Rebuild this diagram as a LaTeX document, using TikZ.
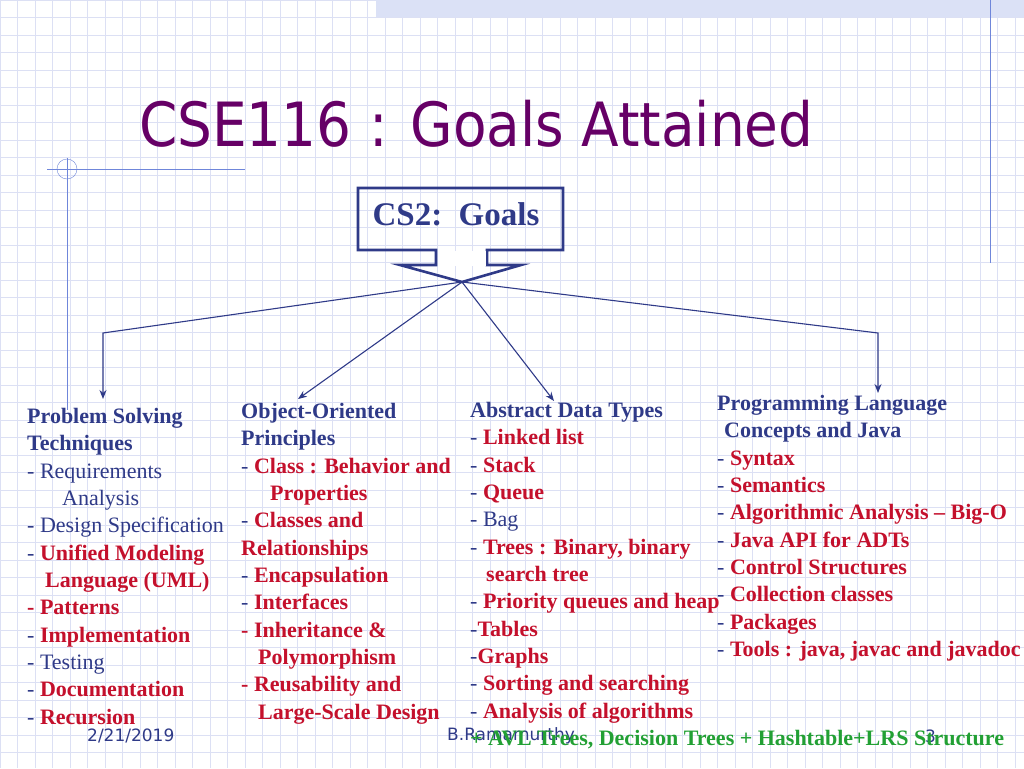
\documentclass[tikz,border=0pt]{standalone}
\usepackage{fontspec}
\setmainfont{Liberation Serif}
\newfontfamily\titlefont{DejaVu Sans Condensed}
\newfontfamily\footfont{DejaVu Sans}
\usetikzlibrary{arrows.meta}
\definecolor{navy}{HTML}{2F3A88}
\definecolor{rd}{HTML}{C4102C}
\definecolor{gr}{HTML}{22A034}
\definecolor{ttl}{HTML}{660066}
\definecolor{gridc}{HTML}{DCE0F4}
\definecolor{deco}{HTML}{6F86DA}
\newcommand{\B}[1]{\textcolor{navy}{#1}}
\newcommand{\R}[1]{\textcolor{rd}{\bfseries #1}}
\newcommand{\N}[1]{\textcolor{navy}{\mdseries #1}}
\tikzset{
 col/.style={anchor=north west,inner sep=0pt,align=left,font=\fontsize{22}{27.35}\selectfont\bfseries,text=navy},
 conn/.style={navy,line width=1.1pt},
 arr/.style={conn,-{Stealth[length=9pt,width=7pt]}},
}
\begin{document}
\begin{tikzpicture}[x=1pt,y=-1pt]
\clip (0,0) rectangle (1024,768);
\fill[white] (0,0) rectangle (1024,768);
\foreach \i in {0,...,59} {\draw[gridc,line width=0.6pt] (17.5*\i,0) -- (17.5*\i,768);}
\foreach \i in {0,...,44} {\draw[gridc,line width=0.6pt] (0,17.5*\i) -- (1024,17.5*\i);}
\fill[deco!25] (376,0) rectangle (1024,17);
\draw[deco] (990,0) -- (990,263);
\draw[deco] (47,169) -- (245,169);
\draw[deco] (67,158) -- (67,410);
\draw[deco] (67,169) circle[radius=10];
\node[anchor=west,inner sep=0pt,text=ttl,font=\titlefont\fontsize{61}{61}\selectfont] (title) at (139,124) {CSE116 : Goals Attained};
% CS2 box
\node[inner sep=0pt,text=navy,font=\fontsize{33}{33}\selectfont\bfseries] (cs2) at (456,214) {CS2:\ \ Goals};
\coordinate (apex) at (462,282);
\draw[navy,line width=2.6pt,line join=miter] (436,250) -- (358,250) -- (358,188) -- (563,188) -- (563,250) -- (487,250) -- (487,265) -- (521,265) -- (apex) -- (400,265) -- (436,265) -- cycle;
\fill[white] (437.5,251) rectangle (485.5,266);
\draw[navy,line width=2.6pt] (436,250) -- (436,265) (487,250) -- (487,265);
\coordinate (c1) at (103,333);
\coordinate (c4) at (878,333);
\coordinate (e1) at (103,399);
\coordinate (e2) at (298,399);
\coordinate (e3) at (554,401);
\coordinate (e4) at (878,393);
\draw[arr] (apex) -- (c1) -- (e1);
\draw[arr] (apex) -- (e2);
\draw[arr] (apex) -- (e3);
\draw[arr] (apex) -- (c4) -- (e4);
% columns
\node[col] (k1) at (27,408) {Problem Solving\\Techniques\\\N{- Requirements}\\\N{\hspace*{35pt}Analysis}\\\N{- Design Specification}\\\N{-} \R{Unified Modeling}\\\hspace*{18pt}\R{Language (UML)}\\\R{- Patterns}\\\N{-} \R{Implementation}\\\N{- Testing}\\\N{-} \R{Documentation}\\\N{-} \R{Recursion}};
\node[col] (k2) at (241,403) {Object-Oriented\\Principles\\\N{-} \R{Class : Behavior and}\\\hspace*{29pt}\R{Properties}\\\N{-} \R{Classes and}\\\R{Relationships}\\\N{-} \R{Encapsulation}\\\N{-} \R{Interfaces}\\\R{- Inheritance \&}\\\hspace*{17pt}\R{Polymorphism}\\\R{- Reusability and}\\\hspace*{17pt}\R{Large-Scale Design}};
\node[col] (k3) at (470,402) {Abstract Data Types\\\N{-} \R{Linked list}\\\N{-} \R{Stack}\\\N{-} \R{Queue}\\\N{- Bag}\\\N{-} \R{Trees : Binary, binary}\\\hspace*{16pt}\R{search tree}\\\N{-} \R{Priority queues and heap}\\\N{-}\R{Tables}\\\N{-}\R{Graphs}\\\N{-} \R{Sorting and searching}\\\N{-} \R{Analysis of algorithms}};
\node[col] (k4) at (717,395) {Programming Language\\\hspace*{7pt}Concepts and Java\\\N{-} \R{Syntax}\\\N{-} \R{Semantics}\\\N{-} \R{Algorithmic Analysis -- Big-O}\\\N{-} \R{Java API for ADTs}\\\N{-} \R{Control Structures}\\\N{-} \R{Collection classes}\\\N{-} \R{Packages}\\\N{-} \R{Tools : java, javac and javadoc}};
% footer
\node[anchor=west,inner sep=0pt,text=navy,font=\footfont\fontsize{17}{17}\selectfont] (date) at (87,736) {2/21/2019};
\node[anchor=west,inner sep=0pt,text=navy,font=\footfont\fontsize{17}{17}\selectfont] (auth) at (447,736) {B.Ramamurthy};
\node[anchor=west,inner sep=0pt,text=navy,font=\footfont\fontsize{17}{17}\selectfont] (pg) at (925,736) {3};
\node[anchor=west,inner sep=0pt,text=gr,font=\fontsize{22}{22}\selectfont\bfseries] (extra) at (470,740) {+ AVL Trees, Decision Trees + Hashtable+LRS Structure};
\end{tikzpicture}
\end{document}
